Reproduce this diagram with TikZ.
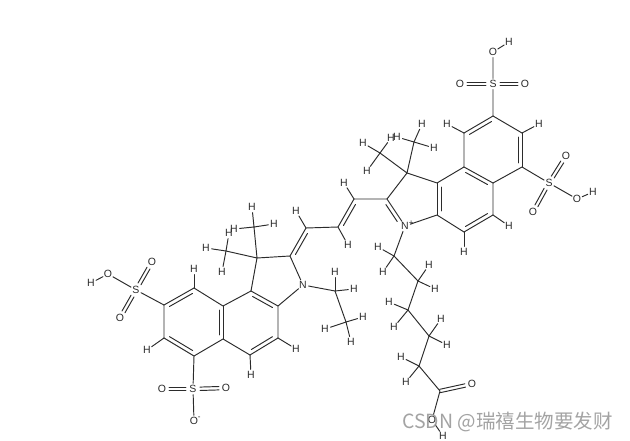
\documentclass[tikz,border=0pt]{standalone}
\usepackage{fontspec}
\setmainfont{Liberation Sans}
\newfontfamily\wmfont{Noto Sans CJK SC}
\usetikzlibrary{calc}
\definecolor{ink}{HTML}{2B2B2B}
\tikzset{
  bond/.style={draw=ink,line width=0.95pt,line cap=round},
  atom/.style={circle,inner sep=0pt,minimum size=11pt,text=ink,font=\fontsize{10.5}{12}\selectfont},
  charge/.style={inner sep=0pt,text=ink,font=\fontsize{8}{9}\selectfont},
  mark text/.style={anchor=west,text=black!42,opacity=0.85,font=\wmfont\fontsize{19.5}{22}\selectfont,inner sep=0pt}
}
% ring double bond: main line plus a shorter line on the right-hand side of a->b
\newcommand\ringd[3][4pt]{%
  \draw[bond] (#2) -- (#3);
  \draw[bond,shorten <=4pt,shorten >=#1] ($(#2)!4pt!-90:(#3)$) -- ($(#3)!4pt!90:(#2)$);
}
% symmetric double bond to an oxygen
\newcommand\oxod[3][7pt]{%
  \draw[bond,shorten <=#1,shorten >=7pt] ($(#2)!1.7pt!-90:(#3)$) -- ($(#3)!1.7pt!90:(#2)$);
  \draw[bond,shorten <=#1,shorten >=7pt] ($(#2)!1.7pt!90:(#3)$) -- ($(#3)!1.7pt!-90:(#2)$);
}
\begin{document}
\begin{tikzpicture}[x=1pt,y=-1pt]
\useasboundingbox (0,0) rectangle (630,441);
\fill[white] (0,0) rectangle (630,441);
\foreach \n/\x/\y in {a1/164/305,a2/194/288,a3/223/306,a4/223/339,a5/194/356,a6/164/338,
  a7/251/291,a8/278/306,a9/278/338,a10/250/355,a11/257/258,a12/290/256,
  m1/254/227,m2/226/251,e1/335/291,e2/346/322,
  v1/306/228,v2/338/227,v3/354/199,
  b1/387/199,b2/407/173,b3/437/183,b4/437/215,b5/464/232,b6/493/215,b7/493/183,b8/464/167,
  b9/464/133,b10/493/116,b11/522/133,b12/522/167,
  n1/414/142,n2/380/153,
  k1/394/256,k2/418/281,k3/408/310,k4/429/336,k5/419/366,k6/440/391}
  {\coordinate (\n) at (\x,\y);}
% hetero atoms
\node[atom] (S1) at (136,290) {S};
\node[atom] (O1) at (108,274) {O};
\node[atom] (O2) at (152,262) {O};
\node[atom] (O3) at (120,318) {O};
\node[atom] (H0) at (91,283) {H};
\node[atom] (S2) at (193,389) {S};
\node[atom] (O4) at (162,389) {O};
\node[atom] (O5) at (226,388) {O};
\node[atom,label={[charge,xshift=-2pt,yshift=3pt]right:-}] (O6) at (194,421) {O};
\node[atom] (N1) at (303,285) {N};
\node[atom,label={[charge,xshift=-2pt,yshift=3pt]right:+}] (N2) at (405,226) {N};
\node[atom] (S3) at (493,84) {S};
\node[atom] (O7) at (493,52) {O};
\node[atom] (H1) at (509,42) {H};
\node[atom] (O8) at (460,84) {O};
\node[atom] (O9) at (525,84) {O};
\node[atom] (S4) at (549,183) {S};
\node[atom] (O10) at (566,156) {O};
\node[atom] (O11) at (533,212) {O};
\node[atom] (O12) at (577,199) {O};
\node[atom] (H2) at (593,192) {H};
\node[atom] (O13) at (472,384) {O};
\node[atom] (O14) at (432,420) {O};
\node[atom] (H3) at (443,436) {H};
% hydrogens: name/x/y/parent
\foreach \n/\x/\y/\p in {h1/194/269/a2,h2/147/350/a6,h3/251/375/a10,h4/296/349/a9,
  h5/252/207/m1,h6/234/229/m1,h7/274/224/m1,
  h8/206/248/m2,h9/229/233/m2,h10/222/272/m2,
  h11/335/272/e1,h12/354/289/e1,h13/363/317/e2,h14/325/329/e2,h15/351/342/e2,
  h16/296/211/v1,h17/348/245/v2,h18/344/183/v3,
  h19/422/124/n1,h20/397/137/n1,h21/434/148/n1,
  h22/363/143/n2,h23/391/138/n2,h24/367/171/n2,
  h25/447/124/b9,h26/539/124/b11,h27/509/226/b6,h28/464/252/b5,
  h29/378/247/k1,h30/383/272/k1,h31/429/265/k2,h32/435/289/k2,
  h33/389/302/k3,h34/394/327/k3,h35/441/319/k4,h36/447/345/k4,
  h37/401/357/k5,h38/406/382/k5}
  {\node[atom] (\n) at (\x,\y) {H}; \draw[bond] (\p) -- (\n);}
% single bonds
\draw[bond] (a2)--(a3) (a4)--(a5) (a6)--(a1) (a3)--(a7) (a8)--(a9) (a10)--(a4)
  (a7)--(a11) (a11)--(a12) (a12)--(N1) (N1)--(a8) (a11)--(m1) (a11)--(m2)
  (N1)--(e1) (e1)--(e2) (v1)--(v2) (v3)--(b1) (b1)--(b2) (b2)--(b3)
  (b4)--(N2) (b4)--(b5) (b6)--(b7) (b7)--(b12) (b8)--(b9) (b10)--(b11)
  (b3)--(b8) (b2)--(n1) (b2)--(n2) (N2)--(k1) (k1)--(k2) (k2)--(k3) (k3)--(k4) (k4)--(k5)
  (k5)--(k6) (k6)--(O14) (O14)--(H3) (a1)--(S1) (S1)--(O1) (O1)--(H0) (a5)--(S2) (S2)--(O6)
  (b10)--(S3) (S3)--(O7) (O7)--(H1) (b12)--(S4) (S4)--(O12) (O12)--(H2);
% double bonds
\ringd{a1}{a2}
\ringd{a3}{a4}
\ringd{a5}{a6}
\ringd{a7}{a8}
\ringd{a9}{a10}
\ringd{a12}{v1}
\ringd{v2}{v3}
\ringd[8pt]{b1}{N2}
\ringd{b4}{b3}
\ringd{b6}{b5}
\ringd{b8}{b7}
\ringd{b9}{b10}
\ringd{b11}{b12}
\oxod{S1}{O2}
\oxod{S1}{O3}
\oxod{S2}{O4}
\oxod{S2}{O5}
\oxod{S3}{O8}
\oxod{S3}{O9}
\oxod{S4}{O10}
\oxod{S4}{O11}
\oxod[0pt]{k6}{O13}
\node[mark text] (wm) at (402,422) {CSDN @瑞禧生物要发财};
\end{tikzpicture}
\end{document}
